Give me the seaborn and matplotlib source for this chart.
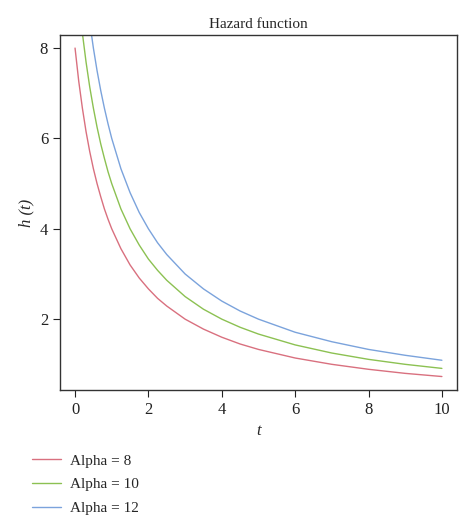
import matplotlib
matplotlib.use("Agg")
import matplotlib.pyplot as plt
import seaborn as sns
import pandas as pd
from matplotlib.lines import Line2D

t = [0, 0.1, 0.2, 0.3, 0.4, 0.5, 0.6, 0.7, 0.8, 0.9, 1.0, 1.25, 1.5, 1.75, 2.0, 2.25, 2.5, 3.0, 3.5, 4.0, 4.5, 5.0, 6.0, 7.0, 8.0, 9.0, 10.0]
h_alpha8 = [8.0, 7.27, 6.67, 6.15, 5.71, 5.33, 5.0, 4.71, 4.44, 4.21, 4.0, 3.56, 3.2, 2.91, 2.67, 2.46, 2.29, 2.0, 1.78, 1.6, 1.45, 1.33, 1.14, 1.0, 0.89, 0.8, 0.73]
h_alpha10 = [10.0, 9.09, 8.33, 7.69, 7.14, 6.67, 6.25, 5.88, 5.56, 5.26, 5.0, 4.44, 4.0, 3.64, 3.33, 3.08, 2.86, 2.5, 2.22, 2.0, 1.82, 1.67, 1.43, 1.25, 1.11, 1.0, 0.91]
h_alpha12 = [12.0, 10.91, 10.0, 9.23, 8.57, 8.0, 7.5, 7.06, 6.67, 6.32, 6.0, 5.33, 4.8, 4.36, 4.0, 3.69, 3.43, 3.0, 2.67, 2.4, 2.18, 2.0, 1.71, 1.5, 1.33, 1.2, 1.09]
labels = ["Alpha = 8", "Alpha = 10", "Alpha = 12"]
colors = ["#d9707f", "#8cc152", "#7ba3dc"]

rows = []
for lab, vals in zip(labels, [h_alpha8, h_alpha10, h_alpha12]):
    for x, y in zip(t, vals):
        rows.append({"t": x, "h": y, "series": lab})
df = pd.DataFrame(rows)

sns.set_style("white")
plt.rcParams["font.family"] = ["Liberation Serif", "DejaVu Serif"]
fig = plt.figure(figsize=(4.74, 5.30), dpi=100)
ax = fig.add_axes([0.1266, 0.264, 0.8374, 0.670])
sns.lineplot(data=df, x="t", y="h", hue="series", palette=colors, ax=ax, legend=False, linewidth=1.0)
ax.set_xlim(-0.41, 10.41)
ax.set_ylim(0.43, 8.29)
ax.set_xticks([0, 2, 4, 6, 8, 10])
ax.set_yticks([2, 4, 6, 8])
for s in ax.spines.values():
    s.set_color("#333333"); s.set_linewidth(1.0)
ax.tick_params(axis="both", direction="out", length=5, width=0.8, labelsize=12, colors="#222222", left=True, bottom=True)
ax.set_xlabel("t", fontstyle="italic", fontsize=12)
ax.set_ylabel("h (t)", fontstyle="italic", fontsize=12)
ax.set_title("Hazard function", fontsize=11, pad=5)

handles = [Line2D([], [], color=c, lw=1.0) for c in colors]
fig.legend(handles, labels, loc="upper left", bbox_to_anchor=(0.055, 0.155), frameon=False,
           fontsize=11, handlelength=1.9, handletextpad=0.6, labelspacing=0.65, borderaxespad=0)
fig.savefig("out.png", dpi=100)
